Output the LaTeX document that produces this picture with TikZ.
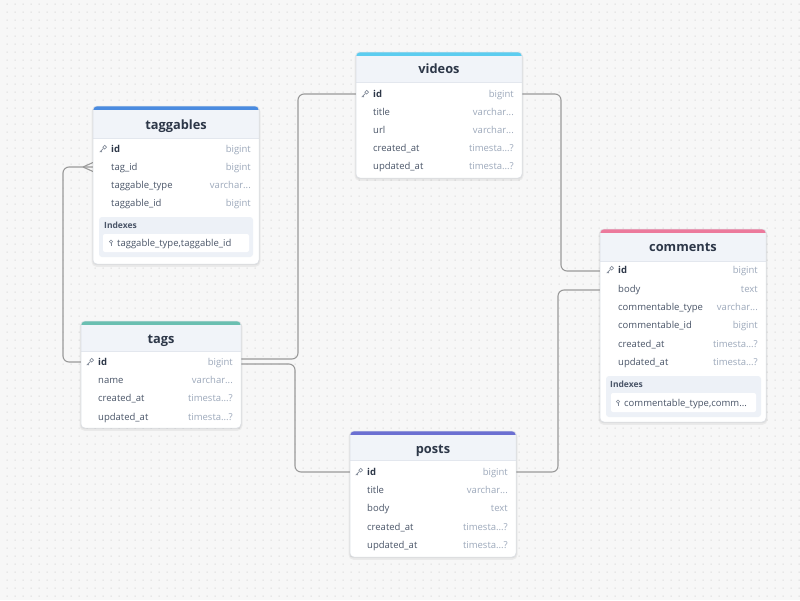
\documentclass[tikz,border=0pt]{standalone}
\usepackage{fontspec}
\setmainfont{Open Sans}
\usetikzlibrary{fit,calc}
\definecolor{bgcol}{HTML}{F7F7F7}
\definecolor{dotcol}{HTML}{D2D2D2}
\definecolor{headbg}{HTML}{F1F4F9}
\definecolor{bordercol}{HTML}{DCE0E6}
\definecolor{sepcol}{HTML}{E3E7EE}
\definecolor{titlecol}{HTML}{2D3748}
\definecolor{fieldcol}{HTML}{4A5568}
\definecolor{typecol}{HTML}{9DA9BB}
\definecolor{idxbg}{HTML}{EDF1F7}
\definecolor{linecol}{HTML}{9A9A9A}
\definecolor{cBlue}{HTML}{4A8BE0}
\definecolor{cCyan}{HTML}{5CCDF0}
\definecolor{cPink}{HTML}{EC799C}
\definecolor{cTeal}{HTML}{6ABFB1}
\definecolor{cIndigo}{HTML}{6B6FD2}
\tikzset{
  fieldtxt/.style={inner sep=0pt, text=fieldcol, font=\fontsize{9.5}{11}\selectfont, text height=8.5pt, text depth=1pt},
  idtxt/.style={fieldtxt, text=titlecol, font=\fontsize{9.5}{11}\selectfont\bfseries},
  typetxt/.style={inner sep=0pt, text=typecol, font=\fontsize{9.5}{11}\selectfont, text height=8.5pt, text depth=1pt},
  titletxt/.style={inner sep=0pt, text=titlecol, font=\fontsize{12.8}{14}\selectfont\bfseries, text height=10pt, text depth=1pt},
  idxlabel/.style={inner sep=0pt, text=fieldcol, font=\fontsize{8.5}{10}\selectfont\bfseries, anchor=west, text height=7.5pt, text depth=1pt},
  idxtxt/.style={inner sep=0pt, text=fieldcol, font=\fontsize{9.5}{11}\selectfont, anchor=west, text height=8.5pt, text depth=1pt},
  conn/.style={draw=linecol, line width=1.1pt, rounded corners=6pt},
  icon/.style={draw=typecol!80!black, line width=0.6pt},
}
% #1 name, #2 left, #3 top, #4 right, #5 bottom, #6 colour, #7 header bottom
\newcommand\dbtab[7]{%
  \fill[black,opacity=0.05,rounded corners=5pt] (#2-1.5,#3+0.5) rectangle (#4+1.5,#5+2.8);
  \fill[black,opacity=0.05,rounded corners=4pt] (#2-0.5,#3) rectangle (#4+0.5,#5+1.2);
  \begin{scope}
    \clip[rounded corners=4pt] (#2,#3) rectangle (#4,#5);
    \fill[white] (#2,#3) rectangle (#4,#5);
    \fill[headbg] (#2,#3) rectangle (#4,#7);
    \fill[#6] (#2,#3) rectangle (#4,#3+3.5);
    \draw[sepcol, line width=0.6pt] (#2,#7) -- (#4,#7);
  \end{scope}
  \node[draw=bordercol, line width=0.5pt, rounded corners=4pt, fit={(#2,#3) (#4,#5)}, inner sep=0pt] (#1) {};
}
% #1 name, #2 text x, #3 y, #4 field, #5 right x, #6 type
\newcommand\dbfld[6]{%
  \node[fieldtxt, anchor=west] (#1) at (#2,#3) {#4};
  \node[typetxt, anchor=east] (#1-t) at (#5,#3) {#6};
}
\newcommand\dbid[6]{%
  \node[idtxt, anchor=west] (#1) at (#2,#3) {#4};
  \node[typetxt, anchor=east] (#1-t) at (#5,#3) {#6};
  \draw[icon] (#2-6.3,#3-1.8) circle (1.9pt);
  \draw[icon] (#2-7.6,#3-0.5) -- (#2-11.2,#3+3.1) (#2-10.1,#3+2) -- (#2-9,#3+3.1);
}
\newcommand\dbpin[2]{%
  \draw[icon] (#1,#2-1.4) circle (1.6pt);
  \draw[icon] (#1,#2+0.2) -- (#1,#2+3.2);
}
\begin{document}
\begin{tikzpicture}[x=1pt,y=-1pt]
\useasboundingbox (0,0) rectangle (800,600);
\fill[bgcol] (0,0) rectangle (800,600);
\fill[dotcol] foreach \x in {7,15,...,799} { foreach \y in {4,12,...,599} { (\x-0.5,\y-0.5) rectangle +(1,1) } };

% connectors
\coordinate (tg-in) at (93,167);
\coordinate (tags-l) at (81,362);
\coordinate (tags-r1) at (241,359);
\coordinate (tags-r2) at (241,364);
\coordinate (vid-l) at (356,94);
\coordinate (vid-r) at (522,94);
\coordinate (pst-l) at (350,472);
\coordinate (pst-r) at (516,472);
\coordinate (cmt-l1) at (600,271);
\coordinate (cmt-l2) at (600,290);
\coordinate (foot) at (83,167);
\draw[conn] (tags-l) -| (63,264) |- (tg-in);
\draw[draw=linecol, line width=1.1pt] (foot) -- ($(tg-in)+(0,-4.5)$) (foot) -- ($(tg-in)+(0,4.5)$);
\draw[conn] (tags-r1) -- (298,359) -- (298,94) -- (vid-l);
\draw[conn] (tags-r2) -- (295,364) -- (295,472) -- (pst-l);
\draw[conn] (vid-r) -- (561,94) -- (561,271) -- (cmt-l1);
\draw[conn] (pst-r) -- (558,472) -- (558,290) -- (cmt-l2);

% taggables
\dbtab{taggables}{93}{106}{259}{264}{cBlue}{138}
\node[titletxt] (taggables-title) at (176,125) {taggables};
\dbid{tg-id}{111}{149}{id}{251}{bigint}
\dbfld{tg-tagid}{111}{167}{tag\_id}{251}{bigint}
\dbfld{tg-type}{111}{185}{taggable\_type}{251}{varchar...}
\dbfld{tg-tid}{111}{203}{taggable\_id}{251}{bigint}
\fill[idxbg, rounded corners=3pt] (99,217) rectangle (253,257);
\node[idxlabel] (tg-idx) at (104,225) {Indexes};
\fill[white, rounded corners=2pt] (103,234) rectangle (249,252);
\dbpin{111}{243}
\node[idxtxt] (tg-idx1) at (117,243) {taggable\_type,taggable\_id};

% videos
\dbtab{videos}{356}{52}{522}{178}{cCyan}{82}
\node[titletxt] (videos-title) at (439,69) {videos};
\dbid{vd-id}{373}{94}{id}{514}{bigint}
\dbfld{vd-title}{373}{112}{title}{514}{varchar...}
\dbfld{vd-url}{373}{130}{url}{514}{varchar...}
\dbfld{vd-ca}{373}{148}{created\_at}{514}{timesta...?}
\dbfld{vd-ua}{373}{166}{updated\_at}{514}{timesta...?}

% comments
\dbtab{comments}{600}{229}{766}{422}{cPink}{261}
\node[titletxt] (comments-title) at (683,247) {comments};
\dbid{cm-id}{618}{270}{id}{758}{bigint}
\dbfld{cm-body}{618}{289}{body}{758}{text}
\dbfld{cm-type}{618}{307}{commentable\_type}{758}{varchar...}
\dbfld{cm-cid}{618}{325}{commentable\_id}{758}{bigint}
\dbfld{cm-ca}{618}{344}{created\_at}{758}{timesta...?}
\dbfld{cm-ua}{618}{362}{updated\_at}{758}{timesta...?}
\fill[idxbg, rounded corners=3pt] (606,376) rectangle (761,417);
\node[idxlabel] (cm-idx) at (610,384) {Indexes};
\fill[white, rounded corners=2pt] (611,393) rectangle (756,412);
\dbpin{618}{403}
\node[idxtxt] (cm-idx1) at (624,403) {commentable\_type,comm...};

% tags
\dbtab{tags}{81}{321}{241}{428}{cTeal}{351}
\node[titletxt] (tags-title) at (161,339) {tags};
\dbid{tgs-id}{98}{362}{id}{233}{bigint}
\dbfld{tgs-name}{98}{380}{name}{233}{varchar...}
\dbfld{tgs-ca}{98}{398}{created\_at}{233}{timesta...?}
\dbfld{tgs-ua}{98}{417}{updated\_at}{233}{timesta...?}

% posts
\dbtab{posts}{350}{431}{516}{557}{cIndigo}{460}
\node[titletxt] (posts-title) at (433,449) {posts};
\dbid{ps-id}{367}{472}{id}{508}{bigint}
\dbfld{ps-title}{367}{490}{title}{508}{varchar...}
\dbfld{ps-body}{367}{508}{body}{508}{text}
\dbfld{ps-ca}{367}{527}{created\_at}{508}{timesta...?}
\dbfld{ps-ua}{367}{545}{updated\_at}{508}{timesta...?}
\end{tikzpicture}
\end{document}
